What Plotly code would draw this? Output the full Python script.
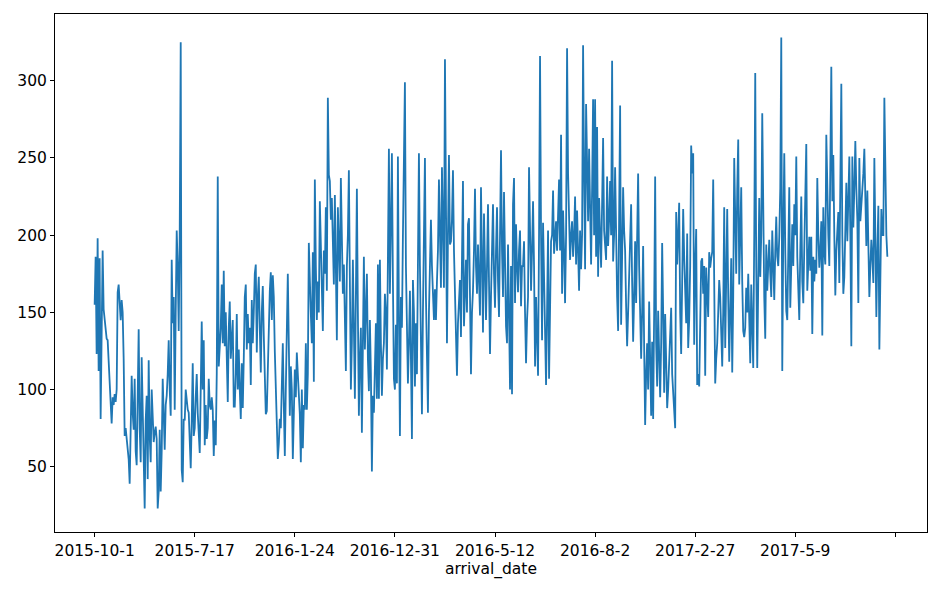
import plotly.graph_objects as go
import pandas as pd

# arrival dates, as strings without zero padding, sorted as text (that is how the source index is ordered)
days = pd.date_range('2015-07-01', '2017-08-31', freq='D')
arrival_date = sorted(f'{d.year}-{d.month}-{d.day}' for d in days)

# daily arrivals in the order above
arrivals = [
    155, 186, 123, 198, 112, 185, 81, 150, 190, 152,
    145, 138, 133, 132, 118, 100, 96, 78, 95, 90,
    97, 92, 100, 163, 168, 150, 145, 158, 150, 120,
    70, 75, 68, 64, 55, 39, 92, 109, 85, 74,
    107, 60, 51, 112, 139, 75, 53, 121, 90, 60,
    23, 80, 96, 42, 119, 70, 53, 100, 76, 66,
    72, 76, 68, 23, 34, 74, 34, 60, 107, 80,
    61, 90, 96, 110, 132, 100, 83, 184, 143, 160,
    87, 150, 203, 180, 138, 200, 325, 48, 40, 81,
    80, 100, 90, 87, 85, 70, 49, 80, 117, 70,
    75, 95, 110, 85, 70, 59, 100, 144, 100, 132,
    64, 90, 68, 75, 107, 90, 87, 95, 87, 57,
    80, 64, 110, 238, 115, 125, 140, 168, 130, 177,
    128, 150, 110, 92, 140, 157, 120, 134, 145, 89,
    89, 110, 149, 100, 126, 100, 81, 117, 88, 120,
    160, 168, 126, 149, 130, 140, 103, 158, 130, 150,
    175, 181, 124, 160, 173, 140, 111, 150, 167, 135,
    110, 84, 86, 120, 150, 164, 176, 145, 174, 160,
    125, 95, 70, 55, 65, 81, 75, 100, 130, 90,
    57, 100, 150, 175, 130, 83, 115, 100, 55, 80,
    113, 95, 124, 110, 96, 84, 53, 100, 62, 90,
    87, 130, 87, 110, 195, 160, 149, 130, 189, 105,
    236, 180, 145, 170, 150, 222, 190, 160, 138, 190,
    175, 218, 164, 289, 239, 235, 210, 224, 190, 168,
    226, 180, 132, 218, 190, 170, 237, 200, 162, 181,
    150, 112, 180, 200, 242, 170, 100, 130, 184, 140,
    94, 160, 230, 150, 83, 120, 140, 72, 130, 186,
    126, 150, 175, 120, 99, 145, 110, 47, 96, 85,
    120, 143, 94, 181, 94, 184, 130, 96, 120, 130,
    162, 150, 113, 180, 256, 162, 200, 253, 170, 107,
    100, 142, 104, 251, 150, 70, 160, 140, 200, 250,
    299, 180, 121, 104, 130, 164, 120, 68, 171, 150,
    102, 143, 110, 190, 253, 180, 120, 84, 150, 200,
    250, 160, 110, 85, 150, 190, 210, 180, 154, 145,
    165, 145, 170, 190, 236, 200, 166, 244, 200, 166,
    314, 200, 130, 200, 252, 194, 196, 210, 242, 190,
    156, 140, 109, 143, 160, 171, 134, 200, 235, 141,
    170, 184, 150, 207, 211, 160, 110, 150, 164, 190,
    230, 180, 162, 194, 170, 148, 231, 190, 137, 214,
    170, 145, 180, 220, 170, 123, 160, 200, 220, 175,
    153, 190, 218, 170, 147, 200, 255, 190, 160, 228,
    180, 141, 130, 194, 150, 100, 180, 97, 220, 237,
    156, 207, 180, 163, 190, 203, 154, 180, 180, 196,
    150, 117, 145, 160, 244, 180, 164, 190, 222, 180,
    115, 160, 139, 109, 200, 316, 200, 132, 208, 180,
    149, 103, 150, 203, 107, 150, 196, 200, 229, 188,
    200, 209, 190, 210, 236, 190, 265, 162, 216, 190,
    156, 200, 321, 240, 200, 184, 200, 209, 186, 200,
    225, 181, 216, 190, 164, 203, 178, 200, 323, 240,
    178, 285, 230, 209, 256, 220, 181, 230, 288, 200,
    288, 186, 270, 173, 224, 200, 179, 220, 263, 203,
    190, 184, 238, 193, 210, 235, 200, 313, 183, 200,
    244, 181, 160, 138, 200, 284, 142, 180, 231, 203,
    190, 154, 128, 150, 170, 200, 220, 170, 131, 160,
    196, 156, 190, 240, 180, 158, 120, 150, 193, 128,
    77, 110, 130, 100, 157, 120, 83, 131, 81, 150,
    238, 130, 102, 151, 120, 95, 130, 195, 150, 98,
    149, 120, 88, 100, 119, 140, 153, 110, 96, 80,
    75, 215, 181, 200, 221, 150, 123, 170, 217, 186,
    160, 143, 201, 127, 145, 180, 258, 240, 253, 129,
    180, 204, 103, 110, 102, 140, 183, 185, 162, 180,
    109, 179, 160, 147, 189, 179, 185, 189, 236, 170,
    104, 120, 130, 150, 171, 160, 140, 115, 150, 218,
    127, 190, 217, 160, 118, 150, 185, 111, 160, 250,
    200, 175, 230, 262, 168, 200, 231, 170, 138, 134,
    140, 166, 150, 175, 150, 117, 168, 140, 114, 200,
    305, 179, 114, 170, 224, 173, 200, 279, 186, 160,
    133, 194, 164, 180, 197, 175, 160, 203, 175, 158,
    190, 212, 186, 180, 199, 230, 328, 112, 200, 253,
    190, 151, 145, 180, 231, 153, 190, 207, 180, 220,
    200, 251, 186, 160, 145, 190, 225, 170, 156, 192,
    220, 259, 164, 180, 199, 177, 199, 136, 186, 170,
    184, 175, 237, 200, 179, 190, 209, 135, 218, 190,
    181, 265, 220, 200, 180, 230, 309, 222, 252, 200,
    161, 190, 205, 215, 169, 230, 298, 200, 162, 173,
    200, 234, 196, 220, 251, 200, 128, 251, 205, 230,
    261, 230, 210, 156, 250, 209, 220, 224, 240, 256,
    220, 193, 229, 200, 160, 180, 197, 185, 169, 250,
    200, 147, 190, 219, 126, 180, 217, 200, 200, 289,
    240, 200, 186,
]

tick_pos = [0, 100, 200, 300, 400, 500, 600, 700, 800]
tick_text = [arrival_date[p] if p < len(arrival_date) else '' for p in tick_pos]
y_ticks = [50, 100, 150, 200, 250, 300]

n = len(arrivals)
pad_x = 0.05 * (n - 1)
pad_y = 0.05 * (max(arrivals) - min(arrivals))

fig = go.Figure()
fig.add_trace(go.Scatter(
    x=list(range(n)),
    y=arrivals,
    mode='lines',
    line=dict(color='#1f77b4', width=1.8),
    customdata=arrival_date[:n],
    hovertemplate='%{customdata}: %{y}<extra></extra>',
    showlegend=False,
))

# the page body adds 8px, so margins are trimmed by that amount
fig.update_layout(
    width=951,
    height=596,
    plot_bgcolor='white',
    paper_bgcolor='white',
    margin=dict(l=47, r=32, t=6, b=72),
    font=dict(family='DejaVu Sans', size=15.5, color='black'),
)
fig.update_xaxes(
    range=[-pad_x, n - 1 + pad_x],
    tickvals=tick_pos,
    ticktext=tick_text,
    ticks='outside',
    ticklen=4,
    tickcolor='black',
    showline=True,
    mirror=True,
    linecolor='black',
    linewidth=1,
    showgrid=False,
    zeroline=False,
    title=dict(text='arrival_date', standoff=4, font=dict(size=15.5)),
)
fig.update_yaxes(
    range=[min(arrivals) - pad_y, max(arrivals) + pad_y],
    tickvals=y_ticks,
    ticks='outside',
    ticklen=4,
    tickcolor='black',
    showline=True,
    mirror=True,
    linecolor='black',
    linewidth=1,
    showgrid=False,
    zeroline=False,
)

fig.write_html('out.html')
